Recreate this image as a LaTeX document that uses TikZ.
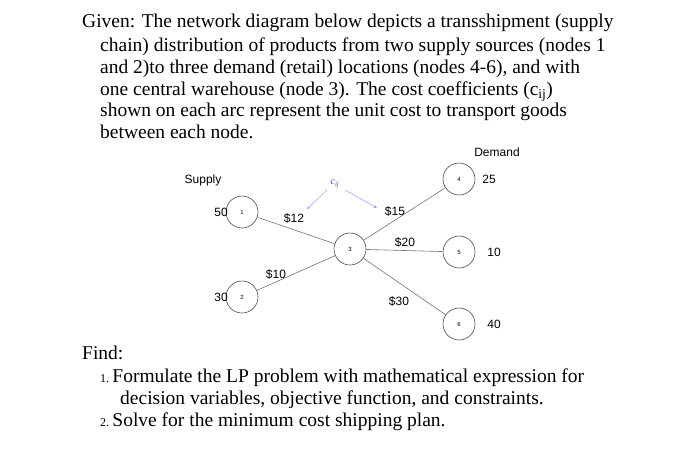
\documentclass[tikz,border=0pt]{standalone}
\usepackage{fontspec}
\setmainfont{Liberation Serif}
\newfontfamily\diag{Liberation Sans}
\begin{document}
\begin{tikzpicture}[x=1pt,y=-1pt,
  txt/.style={anchor=base west,inner sep=0pt,font=\fontsize{19.5}{22}\selectfont},
  nd/.style={circle,draw=black!70,line width=0.6pt,minimum size=32pt,inner sep=0pt,font=\diag\fontsize{6}{7}\selectfont},
  lab/.style={inner sep=0pt,font=\diag\fontsize{12}{14}\selectfont},
  arc/.style={draw=black!55,line width=0.6pt}]
\useasboundingbox (0,0) rectangle (700,456);
\node[txt] (t1) at (82,27) {Given: The network diagram below depicts a transshipment (supply};
\node[txt] (t2) at (100,51) {chain) distribution of products from two supply sources (nodes 1};
\node[txt] (t3) at (100,73) {and 2)to three demand (retail) locations (nodes 4-6), and with};
\node[txt] (t4) at (100,95) {one central warehouse (node 3). The cost coefficients (c\textsubscript{ij})};
\node[txt] (t5) at (100,116) {shown on each arc represent the unit cost to transport goods};
\node[txt] (t6) at (100,138) {between each node.};
\node[txt] (f0) at (82,359) {Find:};
\node[txt] (f1) at (100,382) {{\fontsize{12}{13}\selectfont 1.}\,Formulate the LP problem with mathematical expression for};
\node[txt] (f2) at (120,404) {decision variables, objective function, and constraints.};
\node[txt] (f3) at (100,426) {{\fontsize{12}{13}\selectfont 2.}\,Solve for the minimum cost shipping plan.};
\node[nd] (n1) at (242,212) {1};
\node[nd] (n2) at (242,297) {2};
\node[nd] (n3) at (350,249) {3};
\node[nd] (n4) at (459,179) {4};
\node[nd] (n5) at (459,252) {5};
\node[nd] (n6) at (459,324) {6};
\draw[arc] (n1) -- (n3);
\draw[arc] (n2) -- (n3);
\draw[arc] (n3) -- (n4);
\draw[arc] (n3) -- (n5);
\draw[arc] (n3) -- (n6);
\node[lab] (sup) at (203,180) {Supply};
\node[lab] (dem) at (497,152) {Demand};
\node[lab,anchor=east] (s1) at (228,212) {50};
\node[lab,anchor=east] (s2) at (228,297) {30};
\node[lab] (d4) at (489,179) {25};
\node[lab] (d5) at (494,252) {10};
\node[lab] (d6) at (494,324) {40};
\node[lab] (c12) at (294,218) {\$12};
\node[lab] (c10) at (276,274) {\$10};
\node[lab] (c15) at (395,211) {\$15};
\node[lab] (c20) at (405,242) {\$20};
\node[lab] (c30) at (399,301) {\$30};
\node[inner sep=1pt,text=blue!60!black!70,font=\itshape\fontsize{10}{11}\selectfont] (cij) at (335,184) {c\textsubscript{ij}};
\coordinate (a1) at (307,209);
\coordinate (a2) at (377,208);
\draw[blue!40,line width=0.5pt,-stealth] (327,190) -- (a1);
\draw[blue!40,line width=0.5pt,-stealth] (345,190) -- (a2);
\end{tikzpicture}
\end{document}
